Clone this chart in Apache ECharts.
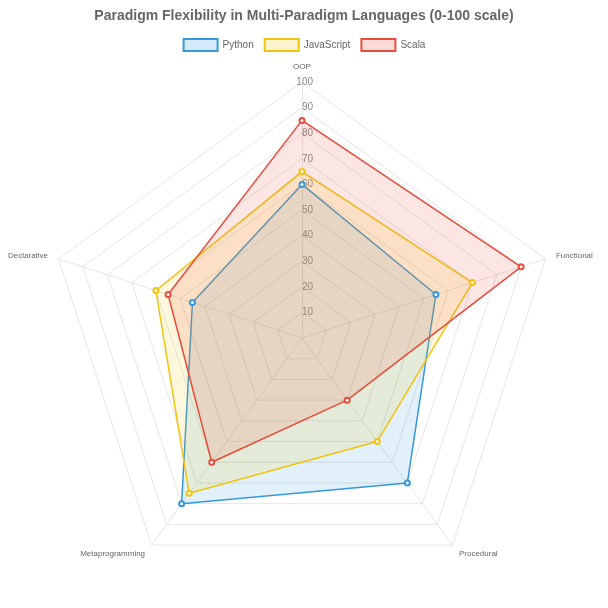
<!DOCTYPE html>
<html><head><meta charset="utf-8">
<script src="https://cdn.jsdelivr.net/npm/echarts@6/dist/echarts.min.js"></script>
<style>html,body{margin:0;padding:0;background:#fff}#c{width:608px;height:608px}</style>
</head><body><div id="c"></div>
<script>
// Indicators listed counter-clockwise from the top (ECharts radar order)
const indicators = ['OOP', 'Declarative', 'Metaprogramming', 'Procedural', 'Functional'];
const seriesNames = ['Python', 'JavaScript', 'Scala'];
const python = [60, 45, 80, 70, 55];
const javascript = [65, 60, 75, 50, 70];
const scala = [85, 55, 60, 30, 90];
const colors = ['#3498db', '#f1c40f', '#e74c3c'];
const fills = ['rgba(52,152,219,0.2)', 'rgba(241,196,15,0.2)', 'rgba(231,76,60,0.2)'];
const values = [python, javascript, scala];

const chart = echarts.init(document.getElementById('c'), null, {renderer: 'canvas'});
chart.setOption({
  animation: false,
  title: {
    text: 'Paradigm Flexibility in Multi-Paradigm Languages (0-100 scale)',
    left: 'center', top: 4,
    textStyle: {fontSize: 14, fontWeight: 'bold', color: '#666', fontFamily: 'Liberation Sans, Arial, sans-serif'}
  },
  legend: {
    top: 33, left: 'center', itemWidth: 34, itemHeight: 12, itemGap: 10,
    textStyle: {fontSize: 10, color: '#666', fontFamily: 'Liberation Sans, Arial, sans-serif'},
    data: seriesNames.map((n, i) => ({name: n, icon: 'rect', itemStyle: {color: fills[i], borderColor: colors[i], borderWidth: 2}}))
  },
  radar: {
    center: [302, 338],
    radius: 256,
    shape: 'polygon',
    splitNumber: 10,
    startAngle: 90,
    indicator: indicators.map((n, i) => {
      const o = {name: n, max: 100, min: 0};
      if (i !== 0) o.axisLabel = {show: false};
      return o;
    }),
    axisName: {color: '#666', fontSize: 8, fontFamily: 'Liberation Sans, Arial, sans-serif'},
    nameGap: 11,
    splitLine: {lineStyle: {color: '#e6e6e6', width: 1}},
    splitArea: {show: false},
    axisLine: {lineStyle: {color: '#e6e6e6'}},
    axisTick: {show: false},
    axisLabel: {
      show: true, showMinLabel: false, color: '#888', fontSize: 10,
      fontFamily: 'Liberation Sans, Arial, sans-serif', margin: -11
    }
  },
  series: [{
    type: 'radar',
    symbol: 'emptyCircle', symbolSize: 5,
    data: values.map((v, i) => ({
      name: seriesNames[i], value: v,
      lineStyle: {color: colors[i], width: 1.5},
      itemStyle: {color: colors[i], borderColor: colors[i], borderWidth: 1.5},
      areaStyle: {color: fills[i]}
    }))
  }]
});
</script></body></html>
